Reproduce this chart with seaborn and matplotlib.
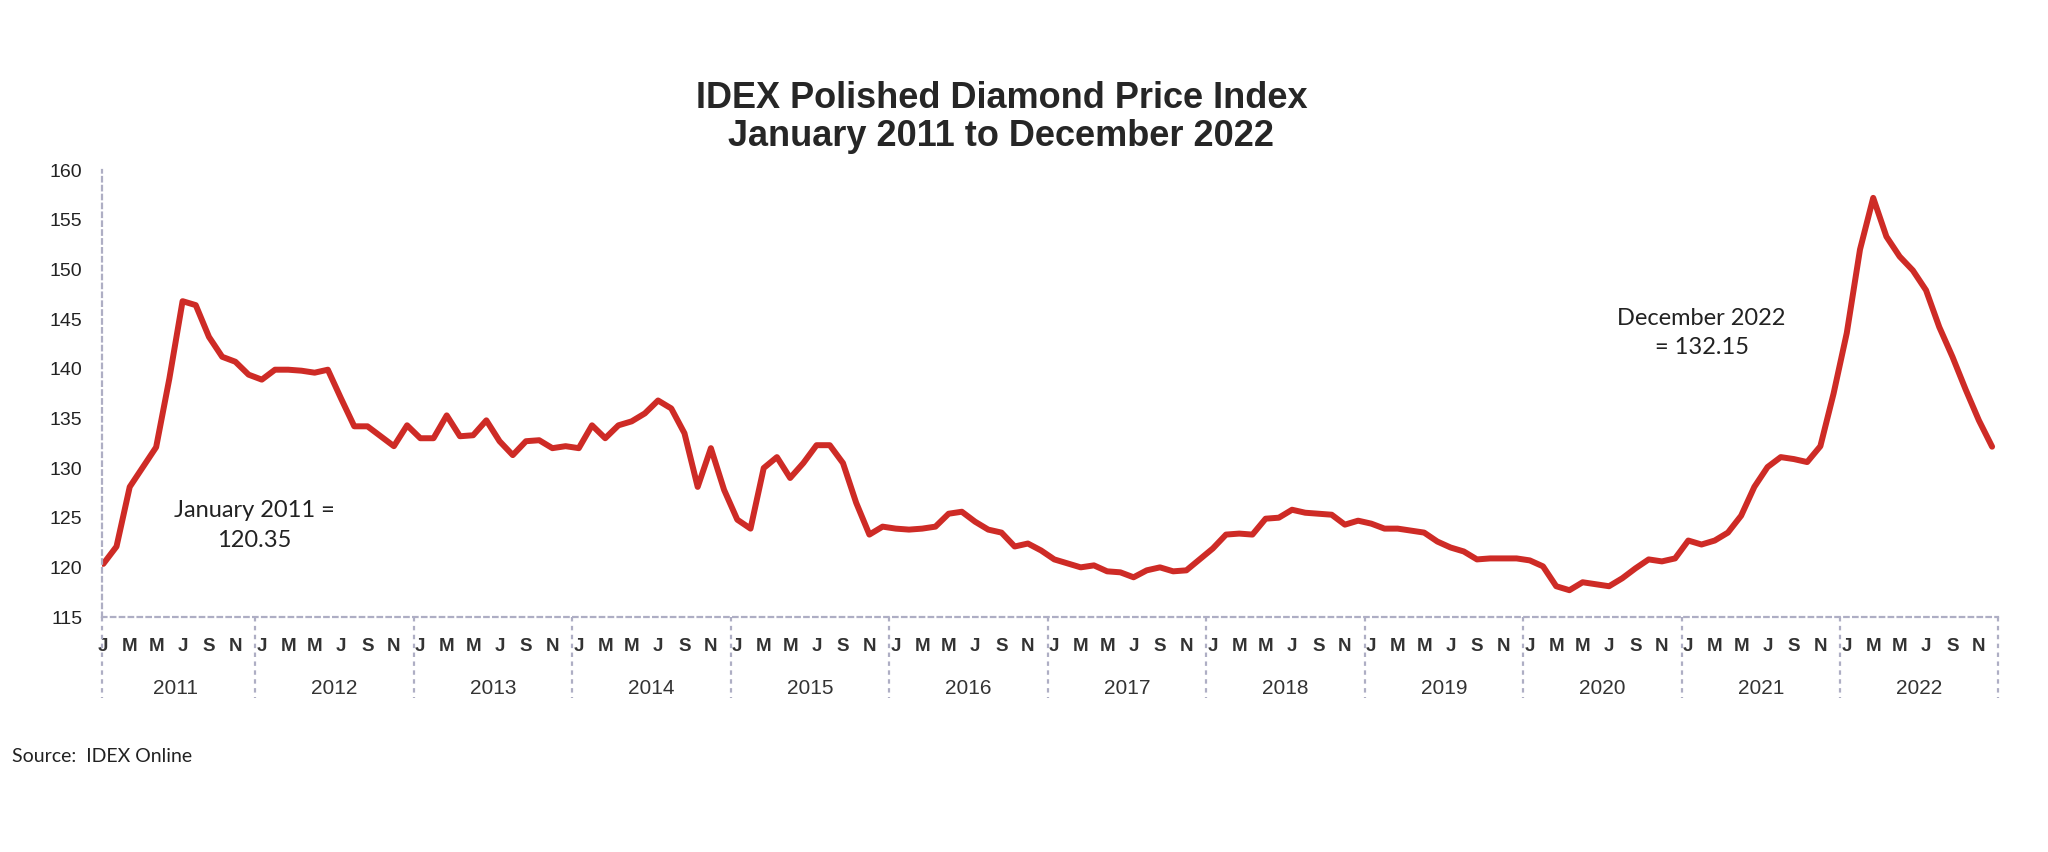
import matplotlib
matplotlib.use("Agg")
from matplotlib import pyplot as plt
from matplotlib.lines import Line2D
import seaborn as sns
import pandas as pd
import numpy as np

years = list(range(2011, 2023))
month_letters = ["J", "F", "M", "A", "M", "J", "J", "A", "S", "O", "N", "D"]

# monthly index, Jan 2011 .. Dec 2022
idx_2011 = [120.35, 122.1, 128.1, 130.1, 132.1, 139.0, 146.8, 146.4, 143.2, 141.2, 140.7, 139.4]
idx_2012 = [138.9, 139.9, 139.9, 139.8, 139.6, 139.9, 137.0, 134.2, 134.2, 133.2, 132.2, 134.3]
idx_2013 = [133.0, 133.0, 135.3, 133.2, 133.3, 134.8, 132.7, 131.3, 132.7, 132.8, 132.0, 132.2]
idx_2014 = [132.0, 134.3, 133.0, 134.3, 134.7, 135.5, 136.8, 136.0, 133.5, 128.1, 132.0, 127.8]
idx_2015 = [124.8, 123.9, 130.0, 131.1, 129.0, 130.5, 132.3, 132.3, 130.5, 126.5, 123.3, 124.1]
idx_2016 = [123.9, 123.8, 123.9, 124.1, 125.4, 125.6, 124.6, 123.8, 123.5, 122.1, 122.4, 121.7]
idx_2017 = [120.8, 120.4, 120.0, 120.2, 119.6, 119.5, 119.0, 119.7, 120.0, 119.6, 119.7, 120.8]
idx_2018 = [121.9, 123.3, 123.4, 123.3, 124.9, 125.0, 125.8, 125.5, 125.4, 125.3, 124.3, 124.7]
idx_2019 = [124.4, 123.9, 123.9, 123.7, 123.5, 122.6, 122.0, 121.6, 120.8, 120.9, 120.9, 120.9]
idx_2020 = [120.7, 120.1, 118.1, 117.7, 118.5, 118.3, 118.1, 118.9, 119.9, 120.8, 120.6, 120.9]
idx_2021 = [122.7, 122.3, 122.7, 123.5, 125.2, 128.1, 130.1, 131.1, 130.9, 130.6, 132.2, 137.5]
idx_2022 = [143.6, 152.0, 157.2, 153.3, 151.3, 149.9, 147.9, 144.2, 141.2, 137.9, 134.8, 132.15]

index_values = (idx_2011 + idx_2012 + idx_2013 + idx_2014 + idx_2015 + idx_2016
                + idx_2017 + idx_2018 + idx_2019 + idx_2020 + idx_2021 + idx_2022)

y_ticks = list(range(115, 161, 5))

df = pd.DataFrame({"month": np.arange(len(index_values)), "index": index_values})

sns.set_style("white")
plt.rcParams["font.family"] = ["Liberation Sans", "DejaVu Sans"]

fig = plt.figure(figsize=(20.48, 8.52), dpi=100)
ax = fig.add_axes([0.0498, 0.2758, 0.9258, 0.5246])

g = sns.lineplot(data=df, x="month", y="index", color="#CE2B26", linewidth=4.3, ax=ax)
for ln in g.lines:
    ln.set_solid_joinstyle("round")
    ln.set_solid_capstyle("round")

ax.set_xlim(-0.1, len(index_values) - 1 + 0.45)
ax.set_ylim(115, 160)
ax.set_xlabel("")
ax.set_ylabel("")

ax.set_yticks(y_ticks, [str(v) for v in y_ticks])
ax.tick_params(axis="y", length=0, pad=14, labelsize=14, labelcolor="#222222")

tick_pos = list(range(0, len(index_values), 2))
ax.set_xticks(tick_pos, [month_letters[p % 12] for p in tick_pos], fontweight="bold")
ax.tick_params(axis="x", length=0, pad=15, labelsize=13.5, labelcolor="#333333")

spine_col = "#AEAEC4"
for s in ["top", "right"]:
    ax.spines[s].set_visible(False)
for s in ["left", "bottom"]:
    ax.spines[s].set_color(spine_col)
    ax.spines[s].set_linewidth(1.6)
    ax.spines[s].set_linestyle((0, (2, 2)))

# year separators and labels under the month letters
xt = ax.get_xaxis_transform()
bounds = [ax.get_xlim()[0]] + [12 * k - 0.5 for k in range(1, len(years))] + [ax.get_xlim()[1]]
for b in bounds:
    ax.add_line(Line2D([b, b], [0, -0.182], transform=xt, color=spine_col, lw=1.6,
                       ls=(0, (2, 2)), clip_on=False))
for k, yr in enumerate(years):
    ax.text(12 * k + 5.5, -0.16, str(yr), transform=xt, ha="center", va="center",
            fontsize=15, color="#333333")

# annotations
ax.text(11.4, 124.2, "January 2011 =\n120.35", ha="center", va="center", fontsize=17,
        family=["Lato", "DejaVu Sans"], color="#222222", linespacing=1.5)
ax.text(121.0, 143.6, "December 2022\n= 132.15", ha="center", va="center", fontsize=17,
        family=["Lato", "DejaVu Sans"], color="#222222", linespacing=1.5)

fig.text(0.489, 0.862, "IDEX Polished Diamond Price Index\nJanuary 2011 to December 2022",
         ha="center", va="center", fontsize=26, fontweight="bold", linespacing=1.1)
fig.text(0.006, 0.112, "Source:  IDEX Online", ha="left", va="center", fontsize=14,
         family=["Lato", "DejaVu Sans"], color="#222222")

fig.savefig("out.png", dpi=100, facecolor="white")
